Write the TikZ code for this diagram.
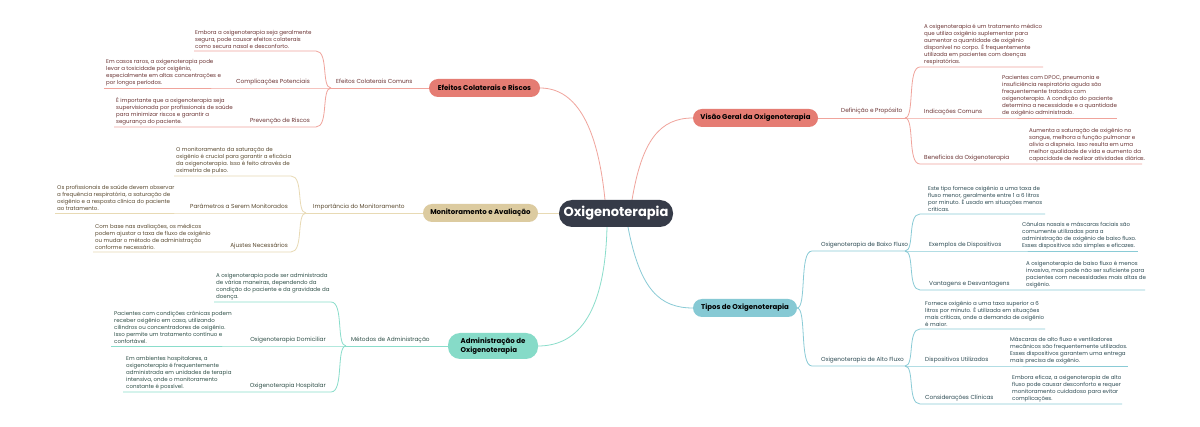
\documentclass[tikz,border=0pt]{standalone}
\usepackage{fontspec}
\setmainfont{Poppins}
\definecolor{redB}{HTML}{E57C73}
\definecolor{redL}{HTML}{F0A49C}
\definecolor{redT}{HTML}{6B3434}
\definecolor{begB}{HTML}{DCCBA0}
\definecolor{begL}{HTML}{E8DAB4}
\definecolor{begT}{HTML}{5A4A30}
\definecolor{tealB}{HTML}{86DBC8}
\definecolor{tealL}{HTML}{8ADDCB}
\definecolor{tealT}{HTML}{2F5048}
\definecolor{bluB}{HTML}{86C9D4}
\definecolor{bluL}{HTML}{8ACBD6}
\definecolor{bluT}{HTML}{2E4C54}
\definecolor{dark}{HTML}{363B48}
\newcommand\rfork[5]{\draw[#5] (#1,#2) .. controls (#1+10,#2) and (#1+2,#3) .. (#1+15,#3) -- (#4,#3);}
\newcommand\lfork[5]{\draw[#5] (#1,#2) .. controls (#1-10,#2) and (#1-2,#3) .. (#1-15,#3) -- (#4,#3);}
\begin{document}
\begin{tikzpicture}[x=1pt,y=-1pt,
  main/.style={rounded corners=9pt,inner sep=0pt,minimum height=18pt,font=\fontsize{7}{8.5}\selectfont\bfseries,text=black,align=left},
  leaf/.style={inner sep=0pt,align=left,font=\fontsize{5.5}{7}\selectfont},
  lab/.style={inner sep=0pt,font=\fontsize{5.8}{7}\selectfont},
  rl/.style={redL,line width=0.8pt},
  bl/.style={begL,line width=0.8pt},
  tl/.style={tealL,line width=0.8pt},
  ul/.style={bluL,line width=0.8pt}]
\useasboundingbox[fill=white] (0,0) rectangle (1200,427);
% center connectors
\draw[rl] (632,200) .. controls (642,140) and (660,118) .. (693,118);
\draw[rl] (605,200) .. controls (598,130) and (578,88) .. (540,88);
\draw[ul] (628,227) .. controls (640,290) and (660,308) .. (693,308);
\draw[tl] (607,227) .. controls (605,310) and (580,346) .. (538,346);
\draw[bl] (538,213) -- (559,213);
% center
\node[rounded corners=13pt,fill=dark,minimum width=114pt,minimum height=27pt,inner sep=0pt,text=white,font=\fontsize{13}{14}\selectfont\bfseries] (c) at (616,213.5) {Oxigenoterapia};
% main boxes
\node[main,fill=redB,minimum width=125pt] (vis) at (755.5,118) {Visão Geral da Oxigenoterapia};
\node[main,fill=redB,minimum width=111pt] (efe) at (484.5,88) {Efeitos Colaterais e Riscos};
\node[main,fill=begB,minimum width=115pt] (mon) at (480.5,213) {Monitoramento e Avaliação};
\node[main,fill=tealB,minimum width=90pt,minimum height=26pt,rounded corners=12pt] (adm) at (493,346) {Administração de\\Oxigenoterapia};
\node[main,fill=bluB,minimum width=104pt] (tip) at (745,308) {Tipos de Oxigenoterapia};

% ===== Visão Geral
\draw[rl] (818,118) -- (905,118);
\node[lab,text=redT,anchor=base west] at (841,113) {Definição e Propósito};
\rfork{905}{118}{67}{1043}{rl}
\rfork{905}{118}{118}{1117}{rl}
\rfork{905}{118}{164}{1142}{rl}
\node[leaf,text=redT,anchor=south west] at (924,65) {A oxigenoterapia é um tratamento médico\\que utiliza oxigênio suplementar para\\aumentar a quantidade de oxigênio\\disponível no corpo. É frequentemente\\utilizada em pacientes com doenças\\respiratórias.};
\node[lab,text=redT,anchor=base west] at (924,114) {Indicações Comuns};
\node[leaf,text=redT,anchor=south west] at (1002,116) {Pacientes com DPOC, pneumonia e\\insuficiência respiratória aguda são\\frequentemente tratados com\\oxigenoterapia. A condição do paciente\\determina a necessidade e a quantidade\\de oxigênio administrado.};
\node[lab,text=redT,anchor=base west] at (924,160) {Benefícios da Oxigenoterapia};
\node[leaf,text=redT,anchor=south west] at (1029,162) {Aumenta a saturação de oxigênio no\\sangue, melhora a função pulmonar e\\alivia a dispneia. Isso resulta em uma\\melhor qualidade de vida e aumento da\\capacidade de realizar atividades diárias.};

% ===== Tipos
\rfork{797}{308}{251}{905}{ul}
\rfork{797}{308}{366}{905}{ul}
\node[lab,text=bluT,anchor=base west] at (821,247) {Oxigenoterapia de Baixo Fluxo};
\node[lab,text=bluT,anchor=base west] at (821,362) {Oxigenoterapia de Alto Fluxo};
\rfork{905}{251}{214}{1045}{ul}
\rfork{905}{251}{251}{1138}{ul}
\rfork{905}{251}{290}{1145}{ul}
\node[leaf,text=bluT,anchor=south west] at (928,212) {Este tipo fornece oxigênio a uma taxa de\\fluxo menor, geralmente entre 1 a 6 litros\\por minuto. É usado em situações menos\\críticas.};
\node[lab,text=bluT,anchor=base west] at (929,247) {Exemplos de Dispositivos};
\node[leaf,text=bluT,anchor=south west] at (1022,249) {Cânulas nasais e máscaras faciais são\\comumente utilizadas para a\\administração de oxigênio de baixo fluxo.\\Esses dispositivos são simples e eficazes.};
\node[lab,text=bluT,anchor=base west] at (929,286) {Vantagens e Desvantagens};
\node[leaf,text=bluT,anchor=south west] at (1026,288) {A oxigenoterapia de baixo fluxo é menos\\invasiva, mas pode não ser suficiente para\\pacientes com necessidades mais altas de\\oxigênio.};
\rfork{905}{366}{329}{1045}{ul}
\rfork{905}{366}{366}{1128}{ul}
\rfork{905}{366}{404}{1122}{ul}
\node[leaf,text=bluT,anchor=south west] at (925,327) {Fornece oxigênio a uma taxa superior a 6\\litros por minuto. É utilizada em situações\\mais críticas, onde a demanda de oxigênio\\é maior.};
\node[lab,text=bluT,anchor=base west] at (925,362) {Dispositivos Utilizados};
\node[leaf,text=bluT,anchor=south west] at (1010,364) {Máscaras de alto fluxo e ventiladores\\mecânicos são frequentemente utilizados.\\Esses dispositivos garantem uma entrega\\mais precisa de oxigênio.};
\node[lab,text=bluT,anchor=base west] at (925,400) {Considerações Clínicas};
\node[leaf,text=bluT,anchor=south west] at (1012,402) {Embora eficaz, a oxigenoterapia de alto\\fluxo pode causar desconforto e requer\\monitoramento cuidadoso para evitar\\complicações.};

% ===== Efeitos
\draw[rl] (429,88) -- (331,88);
\node[lab,text=redT,anchor=base west] at (336,84) {Efeitos Colaterais Comuns};
\lfork{331}{88}{51}{194}{rl}
\lfork{331}{88}{88}{104}{rl}
\lfork{331}{88}{127}{114}{rl}
\node[leaf,text=redT,anchor=south west] at (195,49) {Embora a oxigenoterapia seja geralmente\\segura, pode causar efeitos colaterais\\como secura nasal e desconforto.};
\node[lab,text=redT,anchor=base east] at (310,84) {Complicações Potenciais};
\node[leaf,text=redT,anchor=south west] at (106,86) {Em casos raros, a oxigenoterapia pode\\levar a toxicidade por oxigênio,\\especialmente em altas concentrações e\\por longos períodos.};
\node[lab,text=redT,anchor=base east] at (310,123) {Prevenção de Riscos};
\node[leaf,text=redT,anchor=south west] at (116,125) {É importante que a oxigenoterapia seja\\supervisionada por profissionais de saúde\\para minimizar riscos e garantir a\\segurança do paciente.};

% ===== Monitoramento
\draw[bl] (423,213) -- (306,213);
\node[lab,text=begT,anchor=base west] at (313,209) {Importância do Monitoramento};
\lfork{306}{213}{176}{174}{bl}
\lfork{306}{213}{213}{55}{bl}
\lfork{306}{213}{252}{93}{bl}
\node[leaf,text=begT,anchor=south west] at (176,174) {O monitoramento da saturação de\\oxigênio é crucial para garantir a eficácia\\da oxigenoterapia. Isso é feito através de\\oximetria de pulso.};
\node[lab,text=begT,anchor=base east] at (288,209) {Parâmetros a Serem Monitorados};
\node[leaf,text=begT,anchor=south west] at (57,211) {Os profissionais de saúde devem observar\\a frequência respiratória, a saturação de\\oxigênio e a resposta clínica do paciente\\ao tratamento.};
\node[lab,text=begT,anchor=base east] at (288,248) {Ajustes Necessários};
\node[leaf,text=begT,anchor=south west] at (95,250) {Com base nas avaliações, os médicos\\podem ajustar a taxa de fluxo de oxigênio\\ou mudar o método de administração\\conforme necessário.};

% ===== Administração
\draw[tl] (448,346) -- (346,346);
\node[lab,text=tealT,anchor=base west] at (351,342) {Métodos de Administração};
\lfork{346}{346}{302}{214}{tl}
\lfork{346}{346}{346}{111}{tl}
\lfork{346}{346}{392}{123}{tl}
\node[leaf,text=tealT,anchor=south west] at (216,300) {A oxigenoterapia pode ser administrada\\de várias maneiras, dependendo da\\condição do paciente e da gravidade da\\doença.};
\node[lab,text=tealT,anchor=base east] at (326,342) {Oxigenoterapia Domiciliar};
\node[leaf,text=tealT,anchor=south west] at (114,344) {Pacientes com condições crônicas podem\\receber oxigênio em casa, utilizando\\cilindros ou concentradores de oxigênio.\\Isso permite um tratamento contínuo e\\confortável.};
\node[lab,text=tealT,anchor=base east] at (326,388) {Oxigenoterapia Hospitalar};
\node[leaf,text=tealT,anchor=south west] at (126,390) {Em ambientes hospitalares, a\\oxigenoterapia é frequentemente\\administrada em unidades de terapia\\intensiva, onde o monitoramento\\constante é possível.};
\end{tikzpicture}
\end{document}
